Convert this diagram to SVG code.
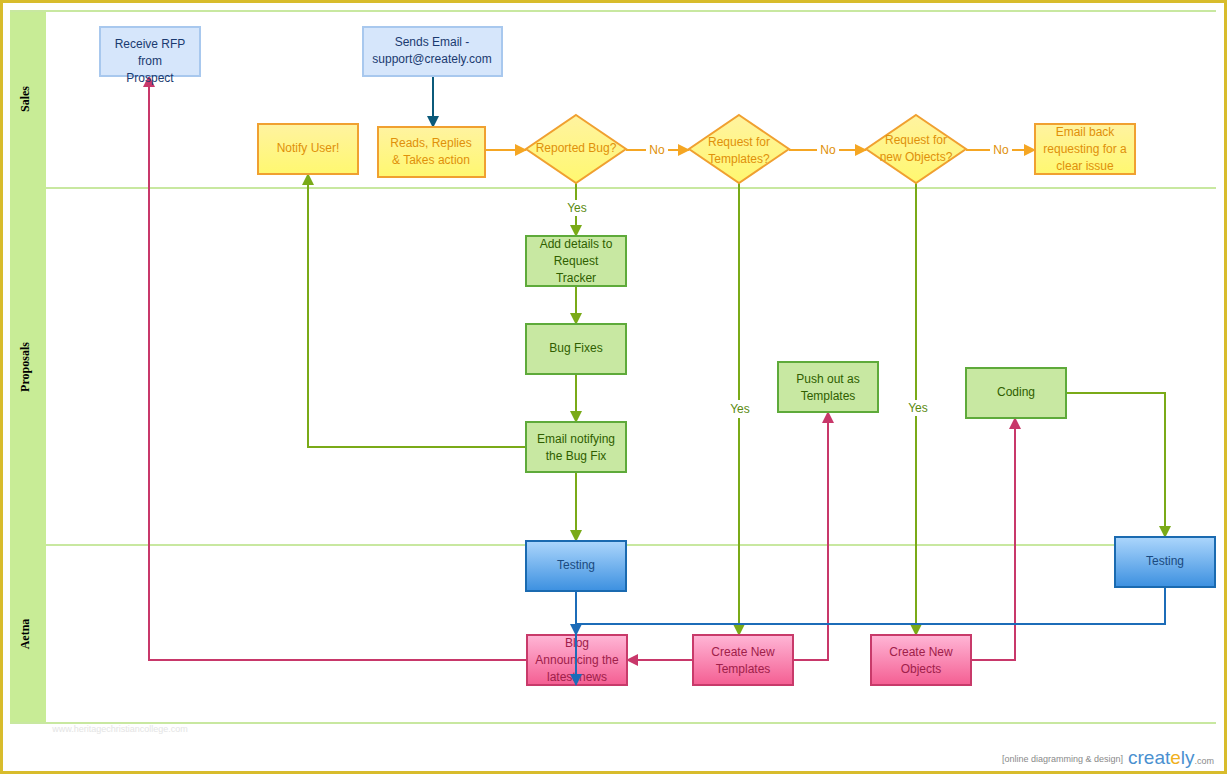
<svg xmlns="http://www.w3.org/2000/svg" width="1227" height="774" viewBox="0 0 1227 774">
<defs>
<linearGradient id="gy" x1="0" y1="0" x2="0" y2="1"><stop offset="0" stop-color="#fff3a0"/><stop offset="1" stop-color="#fff870"/></linearGradient>
<linearGradient id="gb" x1="0" y1="0" x2="0" y2="1"><stop offset="0" stop-color="#acd6fc"/><stop offset="1" stop-color="#3c90e0"/></linearGradient>
<linearGradient id="gp" x1="0" y1="0" x2="0" y2="1"><stop offset="0" stop-color="#ffb6d6"/><stop offset="1" stop-color="#f45e92"/></linearGradient>
<marker id="ao" markerWidth="12" markerHeight="12" refX="11" refY="6" orient="auto" markerUnits="userSpaceOnUse"><path d="M0,0L12,6L0,12z" fill="#f5a623"/></marker>
<marker id="ag" markerWidth="12" markerHeight="12" refX="11" refY="6" orient="auto" markerUnits="userSpaceOnUse"><path d="M0,0L12,6L0,12z" fill="#7aaa18"/></marker>
<marker id="at" markerWidth="12" markerHeight="12" refX="11" refY="6" orient="auto" markerUnits="userSpaceOnUse"><path d="M0,0L12,6L0,12z" fill="#0b5a7a"/></marker>
<marker id="ab" markerWidth="12" markerHeight="12" refX="11" refY="6" orient="auto" markerUnits="userSpaceOnUse"><path d="M0,0L12,6L0,12z" fill="#1c6cb8"/></marker>
<marker id="ap" markerWidth="12" markerHeight="12" refX="11" refY="6" orient="auto" markerUnits="userSpaceOnUse"><path d="M0,0L12,6L0,12z" fill="#c8386a"/></marker>
</defs>
<style>
text{font-family:"Liberation Sans",Arial,sans-serif;font-size:12px;text-anchor:middle}
.lane{font-family:"Liberation Serif",serif;font-weight:bold;font-size:12px}
.bl rect{fill:#d6e6fb;stroke:#a8c8ee;stroke-width:2}
.bl text{fill:#1a3a70}
.ye rect,.ye polygon{fill:url(#gy);stroke:#f0a030;stroke-width:2}
.ye text{fill:#e0900a}
.gr rect{fill:#c8e8a2;stroke:#5eaa3a;stroke-width:2}
.gr text{fill:#2f5e00}
.bu rect{fill:url(#gb);stroke:#1a6ab0;stroke-width:2}
.bu text{fill:#1a4a80}
.pk rect{fill:url(#gp);stroke:#c83a6a;stroke-width:2}
.pk text{fill:#a0204a}
#connectors path{fill:none;stroke-width:2}
.o{stroke:#f5a623}.g{stroke:#7aaa18}.t{stroke:#0b5a7a}.b{stroke:#1c6cb8}.p{stroke:#c8386a}
.lbl{font-size:12px}
</style>
<rect x="1.5" y="1.5" width="1224" height="771" fill="#ffffff" stroke="#d8bc2c" stroke-width="3"/>
<g id="lanes">
<rect x="10" y="10" width="36" height="713" fill="#c8ec96"/>
<path d="M10,11H1216M46,188H1216M46,545H1216M10,723H1216" stroke="#c8e8a0" stroke-width="2" fill="none"/>
<text class="lane" transform="translate(29,99) rotate(-90)">Sales</text>
<text class="lane" transform="translate(29,367) rotate(-90)">Proposals</text>
<text class="lane" transform="translate(29,634) rotate(-90)">Aetna</text>
</g>
<g id="connectors">
<path class="t" d="M433,76V127" marker-end="url(#at)"/>
<path class="o" d="M485,150H526" marker-end="url(#ao)"/>
<path class="o" d="M626,150H646M668,150H689" marker-end="url(#ao)"/>
<path class="o" d="M789,150H817M839,150H866" marker-end="url(#ao)"/>
<path class="o" d="M966,150H990M1012,150H1035" marker-end="url(#ao)"/>
<path class="g" d="M576,183V200M576,216V236" marker-end="url(#ag)"/>
<path class="g" d="M576,286V324" marker-end="url(#ag)"/>
<path class="g" d="M576,374V422" marker-end="url(#ag)"/>
<path class="g" d="M576,472V541" marker-end="url(#ag)"/>
<path class="g" d="M526,447H308V174" marker-end="url(#ag)"/>
<path class="g" d="M739,183V400M739,418V635" marker-end="url(#ag)"/>
<path class="g" d="M916,183V400M916,416V635" marker-end="url(#ag)"/>
<path class="g" d="M1066,393H1165V537" marker-end="url(#ag)"/>
<path class="p" d="M793,660H828V412" marker-end="url(#ap)"/>
<path class="p" d="M971,660H1015V418" marker-end="url(#ap)"/>
<path class="p" d="M693,660H627" marker-end="url(#ap)"/>
<path class="p" d="M527,660H149V76" marker-end="url(#ap)"/>
<path class="b" d="M1165,587V624H576V635" marker-end="url(#ab)"/>
<text class="lbl" x="657" y="154" fill="#e0900a">No</text>
<text class="lbl" x="828" y="154" fill="#e0900a">No</text>
<text class="lbl" x="1001" y="154" fill="#e0900a">No</text>
<text class="lbl" x="577" y="212" fill="#5a8a10">Yes</text>
<text class="lbl" x="740" y="413" fill="#5a8a10">Yes</text>
<text class="lbl" x="918" y="412" fill="#5a8a10">Yes</text>
</g>
<g id="n-rfp" class="bl"><rect x="100" y="27" width="100" height="49"/><text x="150" y="48">Receive RFP</text><text x="150" y="65">from</text><text x="150" y="82">Prospect</text></g>
<g id="n-email" class="bl"><rect x="363" y="27" width="139" height="49"/><text x="432" y="46">Sends Email -</text><text x="432" y="63">support@creately.com</text></g>
<g id="n-notify" class="ye"><rect x="258" y="124" width="100" height="50"/><text x="308" y="152">Notify User!</text></g>
<g id="n-reads" class="ye"><rect x="378" y="127" width="107" height="50"/><text x="431" y="147">Reads, Replies</text><text x="431" y="164">&amp; Takes action</text></g>
<g id="n-bug" class="ye"><polygon points="576,115 626,149 576,183 526,149"/><text x="576" y="152">Reported Bug?</text></g>
<g id="n-tpl" class="ye"><polygon points="739,115 789,149 739,183 689,149"/><text x="739" y="146">Request for</text><text x="739" y="163">Templates?</text></g>
<g id="n-obj" class="ye"><polygon points="916,115 966,149 916,183 866,149"/><text x="916" y="144">Request for</text><text x="916" y="161">new Objects?</text></g>
<g id="n-emailback" class="ye"><rect x="1035" y="124" width="100" height="50"/><text x="1085" y="136">Email back</text><text x="1085" y="153">requesting for a</text><text x="1085" y="170">clear issue</text></g>
<g id="n-add" class="gr"><rect x="526" y="236" width="100" height="50"/><text x="576" y="248">Add details to</text><text x="576" y="265">Request</text><text x="576" y="282">Tracker</text></g>
<g id="n-fix" class="gr"><rect x="526" y="324" width="100" height="50"/><text x="576" y="352">Bug Fixes</text></g>
<g id="n-notif" class="gr"><rect x="526" y="422" width="100" height="50"/><text x="576" y="443">Email notifying</text><text x="576" y="460">the Bug Fix</text></g>
<g id="n-push" class="gr"><rect x="778" y="362" width="100" height="50"/><text x="828" y="383">Push out as</text><text x="828" y="400">Templates</text></g>
<g id="n-coding" class="gr"><rect x="966" y="368" width="100" height="50"/><text x="1016" y="396">Coding</text></g>
<g id="n-test1" class="bu"><rect x="526" y="541" width="100" height="50"/><text x="576" y="569">Testing</text></g>
<g id="n-test2" class="bu"><rect x="1115" y="537" width="100" height="50"/><text x="1165" y="565">Testing</text></g>
<g id="n-blog" class="pk"><rect x="527" y="635" width="100" height="50"/><text x="577" y="647">Blog</text><text x="577" y="664">Announcing the</text><text x="577" y="681">latest news</text></g>
<g id="n-ctpl" class="pk"><rect x="693" y="635" width="100" height="50"/><text x="743" y="656">Create New</text><text x="743" y="673">Templates</text></g>
<g id="n-cobj" class="pk"><rect x="871" y="635" width="100" height="50"/><text x="921" y="656">Create New</text><text x="921" y="673">Objects</text></g>
<path d="M576,591V685" fill="none" stroke="#1c6cb8" stroke-width="2" marker-end="url(#ab)"/>
<text x="120" y="732" fill="#e4e4e4" style="font-size:9px">www.heritagechristiancollege.com</text>
<text x="1123" y="762" fill="#8a8a8a" style="font-size:9px;text-anchor:end">[online diagramming &amp; design]</text>
<text x="1128" y="764" fill="#4a90d0" style="font-size:19px;text-anchor:start">creat<tspan fill="#f0b020">e</tspan>ly<tspan fill="#8a8a8a" style="font-size:9px">.com</tspan></text>
</svg>
